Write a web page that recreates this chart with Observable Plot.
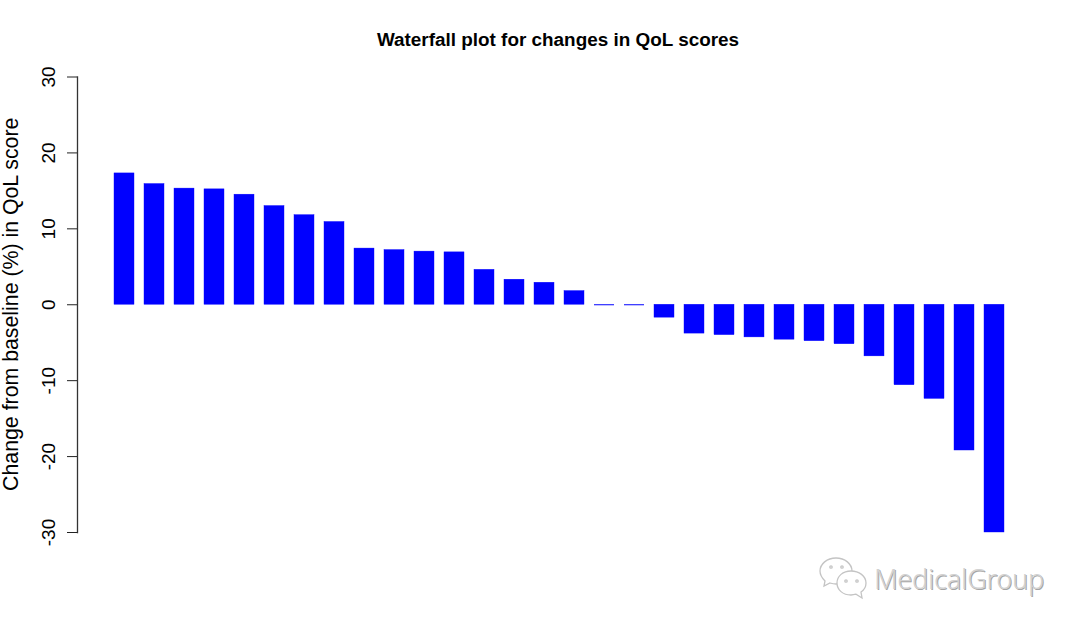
<!DOCTYPE html>
<html>
<head>
<meta charset="utf-8">
<script src="https://cdn.jsdelivr.net/npm/d3@7"></script>
<script src="https://cdn.jsdelivr.net/npm/@observablehq/plot@0.6"></script>
<style>
html,body{margin:0;padding:0;background:#fff}
#wrap{position:relative;width:1080px;height:628px;overflow:hidden}
#wm{position:absolute;left:819px;top:554px;width:240px;height:48px;display:flex;align-items:center}
#wm span{font:27px "Noto Sans","Open Sans",sans-serif;font-weight:300;color:#d2d2d2;margin-left:7px;letter-spacing:-.2px;text-shadow:1px 1px 0 #a5a5a5}
</style>
</head>
<body>
<div id="wrap"></div>
<script>
const patients = d3.range(1, 31);
const changes = [17.3, 15.9, 15.3, 15.2, 14.5, 13.0, 11.8, 10.9, 7.4, 7.2, 7.0, 6.9, 4.6, 3.3, 2.9, 1.8, 0, 0,
  -1.7, -3.8, -4.0, -4.3, -4.6, -4.8, -5.2, -6.8, -10.6, -12.4, -19.2, -30];
const yTicks = [-30, -20, -10, 0, 10, 20, 30];
const titleText = "Waterfall plot for changes in QoL scores";
const yLabel = "Change from baseline (%) in QoL score";
const sans = "Liberation Sans, Arial, sans-serif";

const rows = patients.map((p, i) => ({p, v: changes[i]}));

const chart = Plot.plot({
  width: 1080,
  height: 628,
  marginLeft: 77,
  marginRight: 70,
  marginTop: 76.5,
  marginBottom: 96,
  style: {fontFamily: sans, background: "#fff", color: "#000"},
  x: {type: "band", domain: patients, range: [107.5, 1009.5], paddingInner: 1/3, paddingOuter: 1/6, axis: null},
  y: {domain: [-30, 30]},
  marks: [
    Plot.barY(rows, {x: "p", y1: 0, y2: "v", fill: "blue", stroke: "blue", strokeWidth: 0.4}),
    Plot.tickY(rows.filter(d => d.v === 0), {x: "p", y: "v", stroke: "blue", strokeWidth: 1}),
    Plot.frame({anchor: "left", stroke: "#333", strokeWidth: 1.3}),
    Plot.axisY({ticks: yTicks, tickSize: 10, tickPadding: 13, tickRotate: -90, label: null, fontSize: 19, stroke: "#222", tickFormat: d => String(d)}),
    Plot.text([yLabel], {frameAnchor: "left", textAnchor: "middle", lineAnchor: "middle", dx: -66.5, dy: -0.5, rotate: -90, fontSize: 21.3, fill: "#000"}),
    Plot.text([titleText], {frameAnchor: "top", lineAnchor: "middle", dx: 14, dy: -37, fontSize: 18.9, fontWeight: "bold", fill: "#000"})
  ]
});
document.getElementById("wrap").appendChild(chart);

const wm = document.createElement("div");
wm.id = "wm";
wm.innerHTML = `<svg width="48" height="44" viewBox="0 0 48 44" fill="#fff" stroke="#c4c4c4" stroke-width="1.3">
<path d="M17 2C8 2 1 8 1 15c0 4 2 7 5 10l-1 5 6-3c2 .6 4 1 6 1 9 0 16-6 16-13S26 2 17 2z"/>
<path d="M32 15c-8 0-14 5-14 12s6 12 14 12c2 0 3-.2 5-.8l6 3.8-1-6c3-2 5-5 5-9 0-7-7-12-15-12z"/>
<circle cx="12" cy="11" r="1.2"/><circle cx="23" cy="11" r="1.2"/><circle cx="27" cy="25" r="1.2"/><circle cx="38" cy="25" r="1.2"/></svg><span>MedicalGroup</span>`;
document.getElementById("wrap").appendChild(wm);
</script>
</body>
</html>
